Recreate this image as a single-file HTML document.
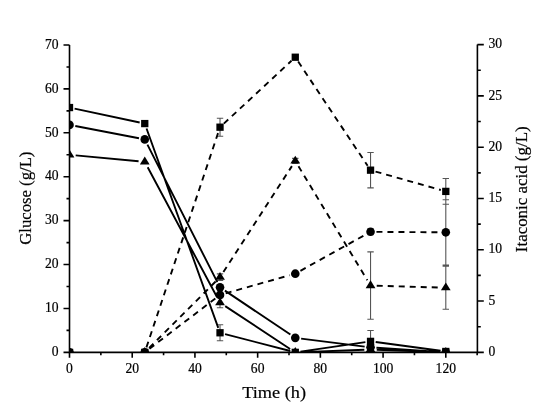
<!DOCTYPE html>
<html><head><meta charset="utf-8"><title>Glucose and itaconic acid</title>
<style>html,body{margin:0;padding:0;background:#fff;width:550px;height:416px;overflow:hidden}svg{display:block}</style>
</head><body>
<svg width="550" height="416" viewBox="0 0 550 416">
<rect width="550" height="416" fill="#fff"/>
<defs><clipPath id="pa"><rect x="69.5" y="0" width="407.9" height="352.35"/></clipPath></defs>
<g clip-path="url(#pa)">
<path d="M220.02,118.19V136.19M216.82,118.19H223.22M216.82,136.19H223.22M370.54,152.47V187.87M367.34,152.47H373.74M367.34,187.87H373.74M445.80,178.50V204.30M442.60,178.50H449.00M442.60,204.30H449.00M445.80,199.73V264.93M442.60,199.73H449.00M442.60,264.93H449.00M370.54,228.82V234.82M367.34,228.82H373.74M367.34,234.82H373.74M370.54,251.87V319.27M367.34,251.87H373.74M367.34,319.27H373.74M445.80,266.12V309.32M442.60,266.12H449.00M442.60,309.32H449.00M295.28,158.34V163.54M292.08,158.34H298.48M292.08,163.54H298.48M220.02,273.86V280.46M216.82,273.86H223.22M216.82,280.46H223.22M220.02,324.77V340.77M216.82,324.77H223.22M216.82,340.77H223.22M370.54,330.57V352.17M367.34,330.57H373.74M367.34,352.17H373.74M220.02,297.73V307.73M216.82,297.73H223.22M216.82,307.73H223.22" stroke="#555" stroke-width="1.1" fill="none"/>
<path d="M74.59,108.63L139.67,122.50M146.52,128.47L218.26,327.87M225.05,334.08L290.25,351.04M300.42,351.60L365.39,342.12M375.69,342.06L440.64,350.78M75.29,126.01L138.97,138.27M147.43,144.65L217.34,282.10M224.92,290.65L290.38,334.57M301.13,338.60L364.68,346.61M376.42,347.74L439.91,351.96M75.67,155.33L138.59,161.20M147.68,167.25L217.10,297.26M225.19,306.14L290.10,348.94M301.47,352.12L364.34,349.77M376.73,349.77L439.60,352.12" stroke="#000" stroke-width="1.9" fill="none"/>
<path d="M146.41,347.42L218.37,132.12M223.83,123.65L291.47,60.77M298.16,61.55L367.65,165.84M375.54,171.58L440.79,189.99M149.15,347.97L215.63,281.54M223.39,271.95L291.91,166.14M298.48,166.24L367.33,280.26M376.73,285.75L439.60,287.55M149.45,348.77L215.33,298.48M225.70,293.30L289.60,275.27M300.43,270.80L365.38,234.69M376.44,231.86L439.90,232.29" stroke="#000" stroke-width="1.9" fill="none" stroke-dasharray="6 5"/>
<g fill="#000"><polygon points="69.50,149.49 74.40,157.39 64.60,157.39"/><polygon points="144.76,156.51 149.66,164.41 139.86,164.41"/><polygon points="220.02,297.47 224.92,305.37 215.12,305.37"/><polygon points="295.28,347.08 300.18,354.98 290.38,354.98"/><polygon points="370.54,344.27 375.44,352.17 365.64,352.17"/><polygon points="445.80,347.08 450.70,354.98 440.90,354.98"/><polygon points="69.50,347.08 74.40,354.98 64.60,354.98"/><polygon points="144.76,347.08 149.66,354.98 139.86,354.98"/><polygon points="220.02,271.89 224.92,279.79 215.12,279.79"/><polygon points="295.28,155.67 300.18,163.57 290.38,163.57"/><polygon points="370.54,280.30 375.44,288.20 365.64,288.20"/><polygon points="445.80,282.46 450.70,290.36 440.90,290.36"/><circle cx="69.50" cy="124.90" r="4.3"/><circle cx="144.76" cy="139.39" r="4.3"/><circle cx="220.02" cy="287.36" r="4.3"/><circle cx="295.28" cy="337.86" r="4.3"/><circle cx="370.54" cy="347.34" r="4.3"/><circle cx="445.80" cy="352.35" r="4.3"/><circle cx="69.50" cy="352.35" r="4.3"/><circle cx="144.76" cy="352.35" r="4.3"/><circle cx="220.02" cy="294.91" r="4.3"/><circle cx="295.28" cy="273.67" r="4.3"/><circle cx="370.54" cy="231.82" r="4.3"/><circle cx="445.80" cy="232.33" r="4.3"/><rect x="65.85" y="103.90" width="7.3" height="7.3"/><rect x="141.11" y="119.93" width="7.3" height="7.3"/><rect x="216.37" y="329.12" width="7.3" height="7.3"/><rect x="291.63" y="348.70" width="7.3" height="7.3"/><rect x="366.89" y="337.72" width="7.3" height="7.3"/><rect x="442.15" y="347.82" width="7.3" height="7.3"/><rect x="65.85" y="348.70" width="7.3" height="7.3"/><rect x="141.11" y="348.70" width="7.3" height="7.3"/><rect x="216.37" y="123.54" width="7.3" height="7.3"/><rect x="291.63" y="53.58" width="7.3" height="7.3"/><rect x="366.89" y="166.52" width="7.3" height="7.3"/><rect x="442.15" y="187.75" width="7.3" height="7.3"/></g>
</g>
<path d="M69.5,44.98000000000002V352.35H477.4V44.61000000000007" stroke="#000" stroke-width="1.6" fill="none"/>
<path d="M69.5,352.35H63.5M69.5,330.40H66.5M69.5,308.44H63.5M69.5,286.49H66.5M69.5,264.53H63.5M69.5,242.58H66.5M69.5,220.62H63.5M69.5,198.67H66.5M69.5,176.71H63.5M69.5,154.76H66.5M69.5,132.80H63.5M69.5,110.85H66.5M69.5,88.89H63.5M69.5,66.94H66.5M69.5,44.98H63.5M477.4,352.35H483.79999999999995M477.4,326.71H480.79999999999995M477.4,301.06H483.79999999999995M477.4,275.42H480.79999999999995M477.4,249.77H483.79999999999995M477.4,224.13H480.79999999999995M477.4,198.48H483.79999999999995M477.4,172.84H480.79999999999995M477.4,147.19H483.79999999999995M477.4,121.55H480.79999999999995M477.4,95.90H483.79999999999995M477.4,70.26H480.79999999999995M477.4,44.61H483.79999999999995M69.50,352.35V357.85M100.86,352.35V355.15000000000003M132.22,352.35V357.85M163.57,352.35V355.15000000000003M194.93,352.35V357.85M226.29,352.35V355.15000000000003M257.65,352.35V357.85M289.01,352.35V355.15000000000003M320.36,352.35V357.85M351.72,352.35V355.15000000000003M383.08,352.35V357.85M414.44,352.35V355.15000000000003M445.80,352.35V357.85M477.15,352.35V355.15000000000003" stroke="#000" stroke-width="1.6" fill="none"/>
<g font-family="'Liberation Serif', serif" font-size="13.6" fill="#000" stroke="#000" stroke-width="0.2">
<text x="58.6" y="356.05" text-anchor="end">0</text><text x="58.6" y="312.14" text-anchor="end">10</text><text x="58.6" y="268.23" text-anchor="end">20</text><text x="58.6" y="224.32" text-anchor="end">30</text><text x="58.6" y="180.41" text-anchor="end">40</text><text x="58.6" y="136.50" text-anchor="end">50</text><text x="58.6" y="92.59" text-anchor="end">60</text><text x="58.6" y="48.68" text-anchor="end">70</text><text x="488.5" y="356.05">0</text><text x="488.5" y="304.76">5</text><text x="488.5" y="253.47">10</text><text x="488.5" y="202.18">15</text><text x="488.5" y="150.89">20</text><text x="488.5" y="99.60">25</text><text x="488.5" y="48.31">30</text><text x="69.50" y="372.6" text-anchor="middle">0</text><text x="132.22" y="372.6" text-anchor="middle">20</text><text x="194.93" y="372.6" text-anchor="middle">40</text><text x="257.65" y="372.6" text-anchor="middle">60</text><text x="320.36" y="372.6" text-anchor="middle">80</text><text x="383.08" y="372.6" text-anchor="middle">100</text><text x="445.80" y="372.6" text-anchor="middle">120</text>
</g>
<g font-family="'Liberation Serif', serif" font-size="16.5" fill="#000" stroke="#000" stroke-width="0.2">
<text x="242.2" y="398.1" font-size="17.5" textLength="63.8" lengthAdjust="spacingAndGlyphs">Time (h)</text>
<text transform="translate(31.3,244.8) rotate(-90)" textLength="93.2" lengthAdjust="spacingAndGlyphs">Glucose (g/L)</text>
<text transform="translate(527,252.2) rotate(-90)" textLength="125.8" lengthAdjust="spacingAndGlyphs">Itaconic acid (g/L)</text>
</g>
</svg>
</body></html>
